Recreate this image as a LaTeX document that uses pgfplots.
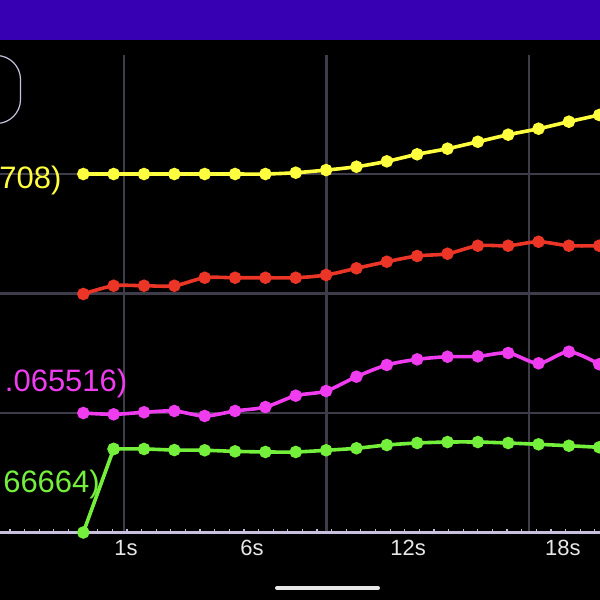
\documentclass[border=0pt]{standalone}
\usepackage{fontspec}
\setmainfont{Liberation Sans}
\usepackage{pgfplots}
\usepackage{pgfplotstable}
\pgfplotsset{compat=1.18}
\definecolor{topbar}{HTML}{3700B3}
\definecolor{ylw}{HTML}{FFFF40}
\definecolor{rd}{HTML}{EA3527}
\definecolor{mg}{HTML}{EE3CEE}
\definecolor{gr}{HTML}{74F03C}
\definecolor{gridc}{HTML}{3D3C48}
\definecolor{basec}{HTML}{C8C0DC}
\definecolor{tickc}{HTML}{E8E8E8}
\pgfplotstableread{
i y r m g
0 3.000 1.996 1.000 0.000
1 3.000 2.065 0.989 0.699
2 3.000 2.065 1.006 0.699
3 3.000 2.065 1.017 0.690
4 3.000 2.132 0.975 0.688
5 3.000 2.132 1.017 0.679
6 3.000 2.132 1.050 0.674
7 3.011 2.132 1.145 0.674
8 3.033 2.155 1.184 0.688
9 3.061 2.211 1.304 0.705
10 3.106 2.266 1.402 0.732
11 3.165 2.314 1.449 0.749
12 3.212 2.333 1.471 0.757
13 3.270 2.400 1.474 0.757
14 3.329 2.400 1.502 0.749
15 3.379 2.433 1.416 0.738
16 3.438 2.400 1.513 0.726
17 3.494 2.400 1.408 0.713
}\data
\begin{document}
\begin{tikzpicture}
\useasboundingbox (0,-67.5pt) rectangle (600pt,532.5pt);
\clip (0,-67.5pt) rectangle (600pt,532.5pt);
\fill[black] (0,-67.5pt) rectangle (600pt,532.5pt);
\fill[topbar] (0,492.5pt) rectangle (600pt,532.5pt);
\draw[basec, line width=1.2pt, rounded corners=24pt] (-60pt,477pt) rectangle (20.5pt,409pt);
\begin{axis}[at={(0,0)}, anchor=south west, scale only axis,
 width=600pt, height=477.5pt,
 xmin=-2.745, xmax=17.025, ymin=0, ymax=3.996,
 axis x line*=bottom, axis y line*=left,
 x axis line style={basec, line width=2.7pt},
 y axis line style={draw=none},
 xtick={1.34,8.01,14.68}, xticklabels={},
 ytick={1,2,3}, yticklabels={},
 major tick length=0pt,
 xmajorgrids, ymajorgrids,
 major grid style={gridc, line width=2.2pt},
 minor xtick={-2.415,-1.9333,...,17.1},
 minor tick length=4pt, tick align=inside,
 minor x tick style={basec, line width=1.2pt},
 extra x ticks={1.406,5.557,10.70,15.80},
 extra x tick labels={1s,6s,12s,18s},
 extra x tick style={grid=none, major tick length=0pt,
   tick label style={anchor=base, yshift=-22.5pt, text=tickc, font=\fontsize{22}{26}\selectfont}},
]
\addplot[ylw, smooth, line width=3.6pt, mark=*, mark size=4.4pt] table[x=i, y=y]{\data};
\addplot[rd, smooth, line width=3.6pt, mark=*, mark size=4.4pt] table[x=i, y=r]{\data};
\addplot[mg, smooth, line width=3.6pt, mark=*, mark size=4.4pt] table[x=i, y=m]{\data};
\addplot[gr, sharp plot, line width=3.6pt, mark=*, mark size=4.4pt] coordinates {(0,0) (1,0.699)};
\addplot[gr, smooth, line width=3.6pt, mark=*, mark size=4.4pt] table[x=i, y=g, skip coords between index={0}{1}]{\data};
\end{axis}
\node[anchor=base east, inner sep=0pt, text=ylw, font=\fontsize{31}{36}\selectfont] at (61.7pt,344.2pt) {708)};
\node[anchor=base east, inner sep=0pt, text=mg, font=\fontsize{31}{36}\selectfont] at (127.5pt,140.5pt) {.065516)};
\node[anchor=base east, inner sep=0pt, text=gr, font=\fontsize{31}{36}\selectfont] at (100pt,39.8pt) {66664)};
\draw[tickc, line width=4pt, line cap=round] (277pt,-55.5pt) -- (378pt,-55.5pt);
\end{tikzpicture}
\end{document}
